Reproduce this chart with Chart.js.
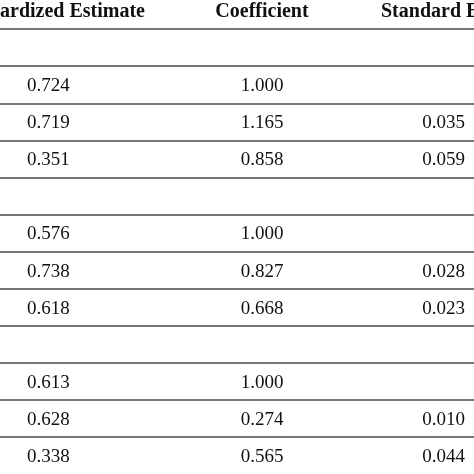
<!DOCTYPE html>
<html><head><script src="https://cdn.jsdelivr.net/npm/chart.js"></script>
<style>html,body{margin:0;padding:0;background:#fff}#w{width:474px;height:474px}</style></head>
<body><div id="w"><canvas id="c"></canvas></div>
<script>
const headers = ["Standardized Estimate", "Coefficient", "Standard Error"];
const estimate = [null, "0.724", "0.719", "0.351", null, "0.576", "0.738", "0.618", null, "0.613", "0.628", "0.338"];
const coefficient = [null, "1.000", "1.165", "0.858", null, "1.000", "0.827", "0.668", null, "1.000", "0.274", "0.565"];
const stdError = [null, null, "0.035", "0.059", null, null, "0.028", "0.023", null, null, "0.010", "0.044"];
const rowIdx = estimate.map((_, i) => i + 1);

const tablePlugin = {
  id: 'table',
  afterDraw(chart) {
    const ctx = chart.ctx, x = chart.scales.x, y = chart.scales.y;
    ctx.save();
    ctx.strokeStyle = '#777'; ctx.lineWidth = 2;
    for (let k = 0; k <= estimate.length - 1; k++) {
      const py = Math.round(y.getPixelForValue(k + 0.47));
      ctx.beginPath(); ctx.moveTo(0, py); ctx.lineTo(474, py); ctx.stroke();
    }
    ctx.fillStyle = '#111'; ctx.textBaseline = 'middle';
    ctx.font = 'bold 20px "Liberation Serif", serif';
    const hy = y.getPixelForValue(0);
    ctx.textAlign = 'right'; ctx.fillText(headers[0], x.getPixelForValue(145), hy);
    ctx.textAlign = 'center'; ctx.fillText(headers[1], x.getPixelForValue(262), hy);
    ctx.textAlign = 'left'; ctx.fillText(headers[2], x.getPixelForValue(381), hy);
    ctx.font = '19px "Liberation Serif", serif';
    rowIdx.forEach((r, i) => {
      const py = y.getPixelForValue(r);
      if (estimate[i]) { ctx.textAlign = 'left'; ctx.fillText(estimate[i], x.getPixelForValue(27), py); }
      if (coefficient[i]) { ctx.textAlign = 'center'; ctx.fillText(coefficient[i], x.getPixelForValue(262), py); }
      if (stdError[i]) { ctx.textAlign = 'right'; ctx.fillText(stdError[i], x.getPixelForValue(465), py); }
    });
    ctx.restore();
  }
};

new Chart(document.getElementById('c'), {
  type: 'scatter',
  data: { datasets: [{ data: [], pointRadius: 0 }] },
  options: {
    responsive: true, maintainAspectRatio: false, animation: false,
    layout: { padding: 0 },
    plugins: { legend: { display: false }, tooltip: { enabled: false } },
    scales: {
      x: { type: 'linear', min: 0, max: 474, display: false },
      y: { type: 'linear', reverse: true, min: -0.323, max: 12.46, display: false }
    }
  },
  plugins: [tablePlugin]
});
</script></body></html>
